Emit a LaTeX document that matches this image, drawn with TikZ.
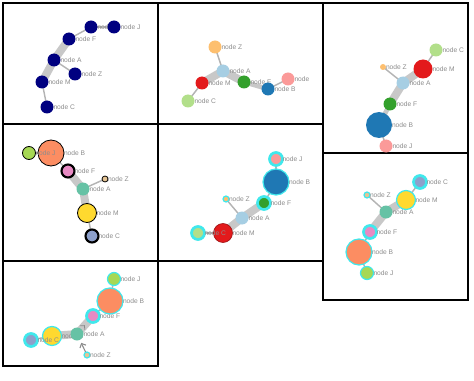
\documentclass[tikz,border=0pt]{standalone}
\usepackage{fontspec}
\setmainfont{Liberation Sans}
\usetikzlibrary{arrows.meta, decorations.markings, backgrounds}
\definecolor{cNavy}{HTML}{000080}
\definecolor{cLblue}{HTML}{A6CEE3}
\definecolor{cBlue}{HTML}{1F78B4}
\definecolor{cLgreen}{HTML}{B2DF8A}
\definecolor{cGreen}{HTML}{33A02C}
\definecolor{cPink}{HTML}{FB9A99}
\definecolor{cRed}{HTML}{E31A1C}
\definecolor{cLorange}{HTML}{FDBF6F}
\definecolor{cTeal}{HTML}{66C2A5}
\definecolor{cSalmon}{HTML}{FC8D62}
\definecolor{cLavender}{HTML}{8DA0CB}
\definecolor{cOrchid}{HTML}{E78AC3}
\definecolor{cLime}{HTML}{A6D854}
\definecolor{cGold}{HTML}{FFD92F}
\definecolor{cTan}{HTML}{E5C494}
\definecolor{edgegray}{HTML}{B4B4B4}
\definecolor{bandgray}{HTML}{C8C8C8}
\definecolor{labelgray}{HTML}{8C8C8C}
\definecolor{arrowgray}{HTML}{8A8A8A}
\definecolor{cyanring}{HTML}{40E8EC}
\tikzset{
    panel/.style = {draw=black, line width=1.3pt},
    thinedge/.style = {draw=edgegray, line width=1.1pt},
    midband/.style = {draw=bandgray, line width=3.5pt, line cap=round},
    band/.style = {draw=bandgray, line width=6pt, line cap=round},
    lbl/.style = {font=\fontsize{5}{6}\selectfont, text=labelgray, inner sep=0pt, outer sep=0pt},
    dot/.style = {circle, inner sep=0pt, outer sep=0pt},
    tinydot/.style = {dot, minimum size=4.5pt, label distance=3pt},
    smalldot/.style = {dot, minimum size=9.75pt, label distance=0.4pt},
    middot/.style = {dot, minimum size=14.25pt, label distance=-1.9pt},
    bigdot/.style = {dot, minimum size=19.5pt, label distance=-4.5pt},
    blkring/.style = {draw=black, line width=0.6pt},
    blkthick/.style = {draw=black, line width=1.6pt},
    cyanthin/.style = {draw=cyanring, line width=0.9pt},
    cyanthick/.style = {draw=cyanring, line width=2pt}
}

\begin{document}
\begin{tikzpicture}[x=0.75pt, y=-0.75pt]
	\useasboundingbox (0,0) rectangle (474,381);

	% panel frames
	\draw[panel] (3,3) rectangle (158,124);
	\draw[panel] (158,3) rectangle (323,124);
	\draw[panel] (323,3) rectangle (468,153);
	\draw[panel] (3,124) rectangle (158,261);
	\draw[panel] (158,124) rectangle (323,261);
	\draw[panel] (323,153) rectangle (468,300);
	\draw[panel] (3,261) rectangle (158,366);

	% panel 1
	\node[smalldot, fill=cNavy, label={[lbl]right:node F}] (p1F) at (69,39) {};
	\node[smalldot, fill=cNavy, label={[lbl]right:node B}] (p1B) at (91,27) {};
	\node[smalldot, fill=cNavy, label={[lbl]right:node J}] (p1J) at (114,27) {};
	\node[smalldot, fill=cNavy, label={[lbl]right:node A}] (p1A) at (54,60) {};
	\node[smalldot, fill=cNavy, label={[lbl]right:node Z}] (p1Z) at (75,74) {};
	\node[smalldot, fill=cNavy, label={[lbl]right:node M}] (p1M) at (42,82) {};
	\node[smalldot, fill=cNavy, label={[lbl]right:node C}] (p1C) at (47,107) {};

	% panel 2
	\node[smalldot, fill=cLorange, label={[lbl]right:node Z}] (p2Z) at (215,47) {};
	\node[smalldot, fill=cLblue, label={[lbl]right:node A}] (p2A) at (223,71) {};
	\node[smalldot, fill=cRed, label={[lbl]right:node M}] (p2M) at (202,83) {};
	\node[smalldot, fill=cLgreen, label={[lbl]right:node C}] (p2C) at (188,101) {};
	\node[smalldot, fill=cGreen, label={[lbl]right:node F}] (p2F) at (244,82) {};
	\node[smalldot, fill=cBlue, label={[lbl]right:node B}] (p2B) at (268,89) {};
	\node[smalldot, fill=cPink, label={[lbl]right:node}] (p2J) at (288,79) {};

	% panel 3
	\node[smalldot, fill=cLgreen, label={[lbl]right:node C}] (p3C) at (436,50) {};
	\node[tinydot, fill=cLorange, label={[lbl]right:node Z}] (p3Z) at (383,67) {};
	\node[middot, fill=cRed, label={[lbl]right:node M}] (p3M) at (423,69) {};
	\node[smalldot, fill=cLblue, label={[lbl]right:node A}] (p3A) at (403,83) {};
	\node[smalldot, fill=cGreen, label={[lbl]right:node F}] (p3F) at (390,104) {};
	\node[bigdot, fill=cBlue, label={[lbl]right:node B}] (p3B) at (379,125) {};
	\node[smalldot, fill=cPink, label={[lbl]right:node J}] (p3J) at (386,146) {};

	% panel 4
	\node[bigdot, fill=cSalmon, blkring, label={[lbl]right:node B}] (p4B) at (51,153) {};
	\node[smalldot, fill=cLime, blkring, label={[lbl]right:node J}] (p4J) at (29,153) {};
	\node[smalldot, fill=cOrchid, blkthick, label={[lbl]right:node F}] (p4F) at (68,171) {};
	\node[tinydot, fill=cTan, blkring, label={[lbl]right:node Z}] (p4Z) at (105,179) {};
	\node[smalldot, fill=cTeal, label={[lbl]right:node A}] (p4A) at (83,189) {};
	\node[middot, fill=cGold, blkring, label={[lbl]right:node M}] (p4M) at (87,213) {};
	\node[smalldot, fill=cLavender, blkthick, label={[lbl]right:node C}] (p4C) at (92,236) {};

	% panel 5
	\node[smalldot, fill=cPink, cyanthick, label={[lbl]right:node J}] (p5J) at (276,159) {};
	\node[bigdot, fill=cBlue, cyanthin, label={[lbl]right:node B}] (p5B) at (276,182) {};
	\node[smalldot, fill=cGreen, cyanthick, label={[lbl]right:node F}] (p5F) at (264,203) {};
	\node[tinydot, fill=cLorange, cyanthin, label={[lbl]right:node Z}] (p5Z) at (226,199) {};
	\node[smalldot, fill=cLblue, label={[lbl]right:node A}] (p5A) at (242,218) {};
	\node[middot, fill=cRed, draw=cRed!70!black, line width=0.5pt, label={[lbl]right:node M}] (p5M) at (223,233) {};
	\node[smalldot, fill=cLgreen, cyanthick, label={[lbl]right:node C}] (p5C) at (198,233) {};

	% panel 6
	\node[smalldot, fill=cLavender, cyanthick, label={[lbl]right:node C}] (p6C) at (420,182) {};
	\node[tinydot, fill=cTan, cyanthin, label={[lbl]right:node Z}] (p6Z) at (367,195) {};
	\node[middot, fill=cGold, cyanthin, label={[lbl]right:node M}] (p6M) at (406,200) {};
	\node[smalldot, fill=cTeal, label={[lbl]right:node A}] (p6A) at (386,212) {};
	\node[smalldot, fill=cOrchid, cyanthick, label={[lbl]right:node F}] (p6F) at (370,232) {};
	\node[bigdot, fill=cSalmon, cyanthin, label={[lbl]right:node B}] (p6B) at (359,252) {};
	\node[smalldot, fill=cLime, cyanthin, label={[lbl]right:node J}] (p6J) at (367,273) {};

	% panel 7
	\node[middot, fill=cGold, cyanthin, label={[lbl]right:node M}] (p7M) at (52,336) {};
	\node[smalldot, fill=cLavender, cyanthick, label={[lbl]right:node C}] (p7C) at (31,340) {};
	\node[smalldot, fill=cTeal, label={[lbl]right:node A}] (p7A) at (77,334) {};
	\node[tinydot, fill=cTan, cyanthin, label={[lbl]right:node Z}] (p7Z) at (87,355) {};
	\node[smalldot, fill=cOrchid, cyanthick, label={[lbl]right:node F}] (p7F) at (93,316) {};
	\node[bigdot, fill=cSalmon, cyanthin, label={[lbl]right:node B}] (p7B) at (110,301) {};
	\node[smalldot, fill=cLime, cyanthin, label={[lbl]right:node J}] (p7J) at (114,279) {};

	% links, under the dots
	\begin{scope}[on background layer]
		\draw[thinedge] (p1B.center) -- (p1J.center);
		\draw[thinedge] (p1B.center) -- (p1F.center);
		\draw[band] (p1F.center) -- (p1A.center);
		\draw[band] (p1A.center) -- (p1M.center);
		\draw[thinedge] (p1A.center) -- (p1Z.center);
		\draw[thinedge] (p1M.center) -- (p1C.center);

		\draw[thinedge] (p2Z.center) -- (p2A.center);
		\draw[band] (p2A.center) -- (p2M.center);
		\draw[band] (p2A.center) -- (p2F.center);
		\draw[midband] (p2F.center) -- (p2B.center);
		\draw[thinedge] (p2B.center) -- (p2J.center);
		\draw[thinedge] (p2M.center) -- (p2C.center);

		\draw[thinedge] (p3C.center) -- (p3M.center);
		\draw[thinedge] (p3Z.center) -- (p3A.center);
		\draw[band] (p3M.center) -- (p3A.center);
		\draw[band] (p3A.center) -- (p3F.center);
		\draw[midband] (p3F.center) -- (p3B.center);
		\draw[thinedge] (p3B.center) -- (p3J.center);

		\draw[thinedge] (p4J.center) -- (p4B.center);
		\draw[thinedge] (p4B.center) -- (p4F.center);
		\draw[band] (p4F.center) -- (p4A.center);
		\draw[band] (p4A.center) -- (p4M.center);
		\draw[thinedge] (p4A.center) -- (p4Z.center);
		\draw[thinedge] (p4M.center) -- (p4C.center);

		\draw[thinedge] (p5J.center) -- (p5B.center);
		\draw[thinedge] (p5B.center) -- (p5F.center);
		\draw[band] (p5F.center) -- (p5A.center);
		\draw[band] (p5A.center) -- (p5M.center);
		\draw[thinedge] (p5A.center) -- (p5Z.center);
		\draw[thinedge] (p5M.center) -- (p5C.center);

		\draw[thinedge] (p6C.center) -- (p6M.center);
		\draw[thinedge] (p6Z.center) -- (p6A.center);
		\draw[band] (p6M.center) -- (p6A.center);
		\draw[band] (p6A.center) -- (p6F.center);
		\draw[thinedge] (p6F.center) -- (p6B.center);
		\draw[thinedge] (p6B.center) -- (p6J.center);

		\draw[thinedge] (p7J.center) -- (p7B.center);
		\draw[thinedge] (p7B.center) -- (p7F.center);
		\draw[band, postaction={decorate}, decoration={markings, mark=at position 0.42 with {\draw[arrowgray, line width=0.6pt, line cap=round] (-1.2pt,-2.2pt) -- (0.8pt,0pt) -- (-1.2pt,2.2pt);}}] (p7A.center) -- (p7F.center);
		\draw[band] (p7A.center) -- (p7M.center);
		\draw[thinedge] (p7M.center) -- (p7C.center);
		\draw[thinedge, draw=arrowgray, line width=0.8pt, shorten >=2.5pt, -{Straight Barb[length=2.5pt, width=5pt]}] (p7Z) -- (p7A);
	\end{scope}
\end{tikzpicture}
\end{document}
